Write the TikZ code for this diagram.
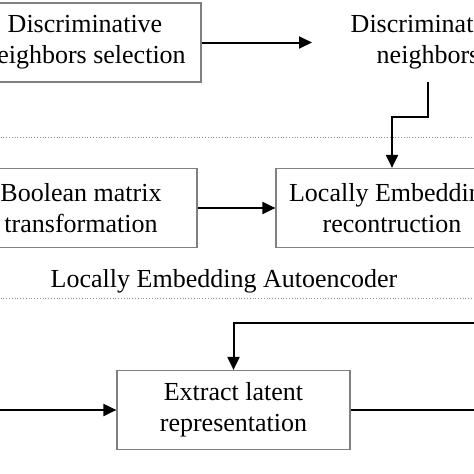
\documentclass[tikz,border=0pt]{standalone}
\usepackage{fontspec}
\setmainfont{Liberation Serif}
\usetikzlibrary{arrows.meta}
\begin{document}
\begin{tikzpicture}
      [x=1pt,y=-1pt
      ,font=\fontsize{26}{31}\selectfont
      ,blk/.style={draw=black!50,line width=1.2pt,minimum width=232pt,minimum height=79pt,align=center,inner sep=0pt}
      ,txt/.style={minimum width=232pt,minimum height=79pt,align=center,inner sep=0pt}
      ,lin/.style={color=black,line width=2pt}
      ,arr/.style={lin,-{Triangle[length=13pt,width=12pt]}}
      ,sep/.style={color=black!45,line width=0.8pt,dotted}
      ]
        \useasboundingbox (0,0) rectangle (474,474);
        \clip (0,0) rectangle (474,474);
        % top row
        \node[blk] (sel) at (85,42.5) {Discriminative\\neighbors selection};
        \node[txt] (nbr) at (428,42.5) {Discriminative\\neighbors};
        % middle row
        \node[blk] (bool) at (81,208) {Boolean matrix\\transformation};
        \node[blk] (rec) at (392,208) {Locally Embedding\\recontruction};
        \node[anchor=base] (lea) at (224,287) {Locally Embedding Autoencoder};
        % bottom row
        \node[blk,minimum width=233pt] (ext) at (233.5,410) {Extract latent\\representation};
        \coordinate (fbin) at (480,323);
        \coordinate (lin0) at (-10,410);
        \coordinate (lout) at (480,410);

        \draw[sep] (-5,137) -- (480,137);
        \draw[sep] (-5,298) -- (480,298);

        \draw[arr] (sel.east) -- (312,42.5);
        \draw[arr] (nbr.south) -- ++(0,35) -| (rec.north);
        \draw[arr] (bool) -- (rec);
        \draw[arr] (fbin) -| (ext.north);
        \draw[arr] (lin0) -- (ext.west);
        \draw[lin] (ext.east) -- (lout);
      \end{tikzpicture}
\end{document}
